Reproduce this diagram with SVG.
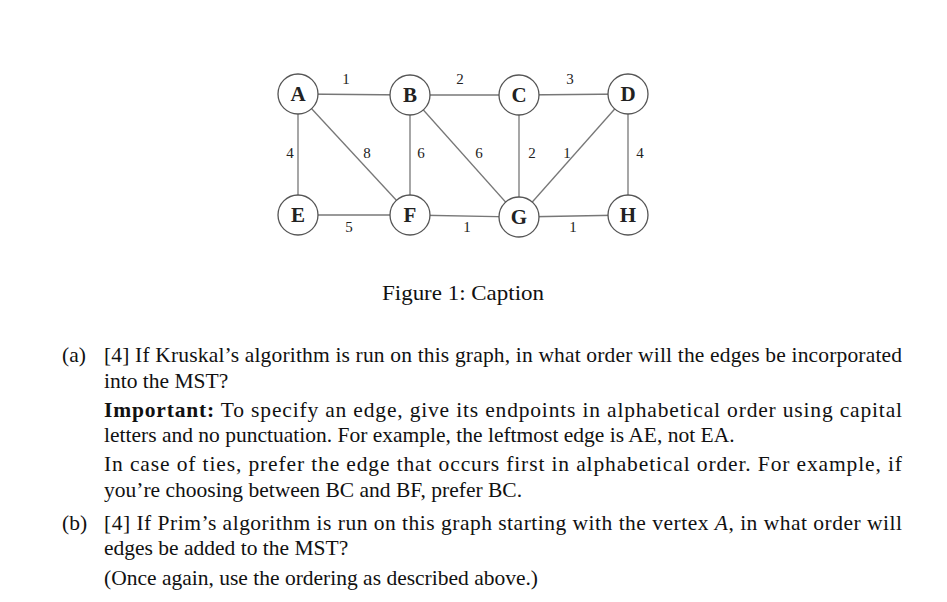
<svg xmlns="http://www.w3.org/2000/svg" width="947" height="602" viewBox="0 0 947 602">
<style>
.n circle{fill:#fff;stroke:#555;stroke-width:1.3}
.n text{font-family:"Liberation Serif",serif;font-size:21px;font-weight:bold;text-anchor:middle;fill:#222}
.e line{stroke:#777;stroke-width:1.3}
.w{font-family:"Liberation Serif",serif;font-size:15px;text-anchor:middle;fill:#222}
.t{font-family:"Liberation Serif",serif;font-size:21.5px;fill:#111}
</style>
<rect width="947" height="602" fill="#fff"/>
<g id="connectors" class="e">
<line x1="298" y1="94" x2="410" y2="95"/>
<line x1="410" y1="95" x2="519" y2="95"/>
<line x1="519" y1="95" x2="628" y2="94"/>
<line x1="298" y1="94" x2="298" y2="215"/>
<line x1="298" y1="94" x2="410" y2="215"/>
<line x1="410" y1="95" x2="410" y2="215"/>
<line x1="410" y1="95" x2="519" y2="217"/>
<line x1="519" y1="95" x2="519" y2="217"/>
<line x1="628" y1="94" x2="519" y2="217"/>
<line x1="628" y1="94" x2="628" y2="215"/>
<line x1="298" y1="215" x2="410" y2="215"/>
<line x1="410" y1="215" x2="519" y2="217"/>
<line x1="519" y1="217" x2="628" y2="215"/>
</g>
<g id="weights" class="w">
<text x="346" y="84">1</text><text x="460" y="84">2</text><text x="570" y="84">3</text>
<text x="290" y="158">4</text><text x="367" y="158">8</text><text x="421" y="158">6</text>
<text x="479" y="158">6</text><text x="532" y="158">2</text><text x="567" y="158">1</text>
<text x="640" y="158">4</text><text x="349" y="232">5</text><text x="467" y="232">1</text><text x="573" y="232">1</text>
</g>
<g id="A" class="n"><circle cx="298" cy="94" r="20"/><text x="298" y="101">A</text></g>
<g id="B" class="n"><circle cx="410" cy="95" r="20"/><text x="410" y="102">B</text></g>
<g id="C" class="n"><circle cx="519" cy="95" r="20"/><text x="519" y="102">C</text></g>
<g id="D" class="n"><circle cx="628" cy="94" r="20"/><text x="628" y="101">D</text></g>
<g id="E" class="n"><circle cx="298" cy="215" r="20"/><text x="298" y="222">E</text></g>
<g id="F" class="n"><circle cx="410" cy="215" r="20"/><text x="410" y="222">F</text></g>
<g id="G" class="n"><circle cx="519" cy="217" r="20"/><text x="519" y="224">G</text></g>
<g id="H" class="n"><circle cx="628" cy="215" r="20"/><text x="628" y="222">H</text></g>
<text class="t" x="463" y="300" text-anchor="middle" textLength="162" lengthAdjust="spacingAndGlyphs">Figure 1: Caption</text>
<text class="t" x="62" y="362">(a)</text>
<text class="t" x="104" y="362" textLength="798" lengthAdjust="spacing">[4] If Kruskal’s algorithm is run on this graph, in what order will the edges be incorporated</text>
<text class="t" x="104" y="388">into the MST?</text>
<text class="t" x="104" y="417" textLength="798" lengthAdjust="spacing"><tspan font-weight="bold">Important:</tspan> To specify an edge, give its endpoints in alphabetical order using capital</text>
<text class="t" x="104" y="442">letters and no punctuation. For example, the leftmost edge is AE, not EA.</text>
<text class="t" x="104" y="471" textLength="798" lengthAdjust="spacing">In case of ties, prefer the edge that occurs first in alphabetical order. For example, if</text>
<text class="t" x="104" y="497">you’re choosing between BC and BF, prefer BC.</text>
<text class="t" x="62" y="530">(b)</text>
<text class="t" x="104" y="530" textLength="798" lengthAdjust="spacing">[4] If Prim’s algorithm is run on this graph starting with the vertex <tspan font-style="italic">A</tspan>, in what order will</text>
<text class="t" x="104" y="555">edges be added to the MST?</text>
<text class="t" x="104" y="585">(Once again, use the ordering as described above.)</text>
</svg>
